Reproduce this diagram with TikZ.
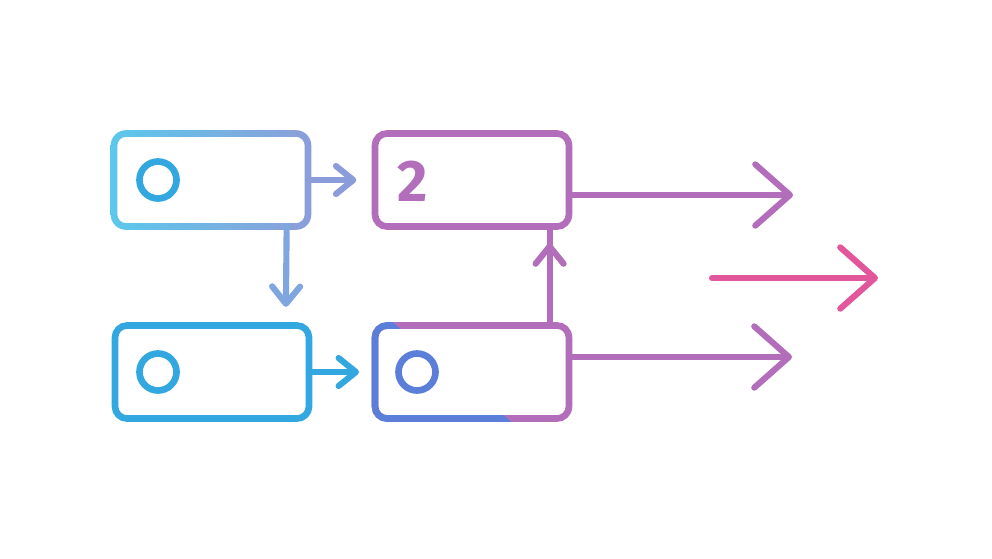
\documentclass[tikz,border=0pt]{standalone}
\usepackage{fontspec}
\setsansfont{Fira Sans}
\usetikzlibrary{arrows.meta,calc,decorations.markings}
\definecolor{cAl}{HTML}{5CC8EC}
\definecolor{cAr}{HTML}{8C9ED9}
\definecolor{cAB}{HTML}{8B9CDA}
\definecolor{cAC}{HTML}{80A6E0}
\definecolor{cC}{HTML}{33A8E0}
\definecolor{cDb}{HTML}{5B7ED8}
\definecolor{cP}{HTML}{B26DBB}
\definecolor{cPink}{HTML}{E2579B}
\tikzset{
  box/.style={rectangle, rounded corners=9pt, minimum width=145.5pt, minimum height=69.75pt, line width=5pt, inner sep=0pt, outer sep=0pt},
  ring/.style={circle, minimum size=27.75pt, line width=5pt, inner sep=0pt},
  conn/.style={line width=4.6pt, line cap=round},
  smallhead/.style={-{Straight Barb[round, length=13pt, width=21pt]}},
  bighead/.style={-{Straight Barb[round, length=26pt, width=46pt]}},
}
\begin{document}
\begin{tikzpicture}[x=0.75pt, y=-0.75pt]
\useasboundingbox[fill=white] (0,0) rectangle (992,558);

% boxes
\node[box] (A) at (211,180) {};
\shade[left color=cAl, right color=cAr, even odd rule]
  [rounded corners=11.5pt] ([shift={(-3.33,-3.33)}]A.north west) rectangle ([shift={(3.33,3.33)}]A.south east)
  [rounded corners=6.5pt] ([shift={(3.33,3.33)}]A.north west) rectangle ([shift={(-3.33,-3.33)}]A.south east);
\node[box, draw=cP] (B) at (472,180) {};
\node[box, draw=cC] (C) at (212,372) {};
\node[box, draw=cP] (D) at (472,372) {};
\begin{scope}
  \clip (355,305) -- (372,305) -- (527,435) -- (355,435) -- cycle;
  \draw[cDb, line width=5pt, rounded corners=9pt] (D.north west) rectangle (D.south east);
\end{scope}

% contents
\node[ring, draw=cC] (rA) at (158,180) {};
\node[ring, draw=cC] (rC) at (158,372) {};
\node[ring, draw=cDb] (rD) at (417,372) {};
\node[text=cP, font=\sffamily\bfseries\fontsize{44}{44}\selectfont] (two) at (413,181) {2};

% connectors
\draw[conn, smallhead, cAB, shorten >=14pt] (A.east) -- (A.east -| B.west);
\draw[conn, smallhead, cAC, shorten >=14pt] ($(A.south west)!0.89!(A.south east)$) -- ($(C.north west)!0.88!(C.north east)$);
\draw[conn, smallhead, cC, shorten >=12pt] (C.east) -- (D.west);
\draw[conn, cP, postaction={decorate, decoration={markings, mark=at position 0.83 with {\arrow{Straight Barb[round, length=13pt, width=21pt]}}}}]
  ($(D.north west)!0.9!(D.north east)$) -- ($(B.south west)!0.9!(B.south east)$);

\coordinate (bS) at ([yshift=-11.25pt]B.east);
\coordinate (bE) at (793,195);
\coordinate (dS) at ([yshift=11.25pt]D.east);
\coordinate (dE) at (792,357);
\coordinate (pS) at (712,278);
\coordinate (pE) at (878,278);
\draw[conn, bighead, cP] (bS) -- (bE);
\draw[conn, bighead, cP] (dS) -- (dE);
\draw[conn, bighead, cPink] (pS) -- (pE);
\end{tikzpicture}
\end{document}
